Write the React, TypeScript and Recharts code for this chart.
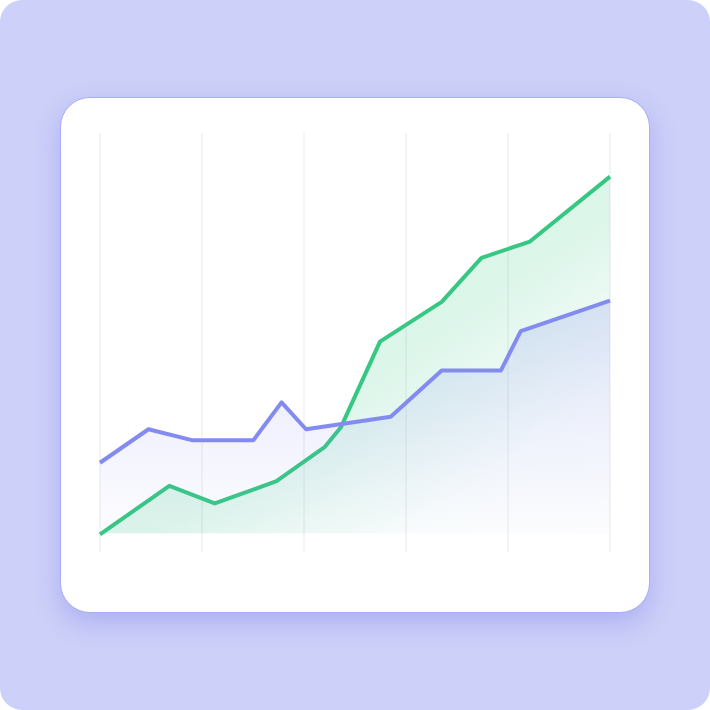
import React from 'react';
import { ComposedChart, Area, XAxis, YAxis, CartesianGrid } from 'recharts';

// x positions (0-100) and values (0-100)
const growthX = [0, 13.6, 22.5, 34.6, 44.1, 47.2, 54.9, 67.0, 74.8, 84.3, 100];
const growthValues = [4.2, 15.8, 11.6, 16.9, 25.1, 29.7, 50.2, 59.7, 70.2, 74.1, 89.6];

const baselineX = [0, 9.5, 18.0, 30.1, 35.6, 40.4, 57.0, 67.0, 78.6, 82.5, 100];
const baselineValues = [21.3, 29.3, 26.7, 26.7, 35.7, 29.3, 32.3, 43.3, 43.3, 52.7, 60.0];

const gridTicks = [0, 20, 40, 60, 80, 100];
const areaBase = 4.5;

const buildData = () => {
  const rows: { [x: string]: { x: number; growth: number | null; baseline: number | null } } = {};
  const row = (x: number) => {
    const key = x.toFixed(2);
    if (!rows[key]) rows[key] = { x, growth: null, baseline: null };
    return rows[key];
  };
  growthX.forEach((x, i) => {
    row(x).growth = growthValues[i];
  });
  baselineX.forEach((x, i) => {
    row(x).baseline = baselineValues[i];
  });
  return Object.values(rows).sort((a, b) => a.x - b.x);
};

const data = buildData();

const GREEN = '#36c883';
const PURPLE = '#838bf1';

// grid lines at the tick values, placed through the x axis scale
const gridX = ({ xAxis }: any) => {
  const s = xAxis && xAxis.scale;
  if (!s) return [];
  return gridTicks.map((t) => (typeof s === 'function' ? s(t) : s.map(t)));
};

const App: React.FC = () => {
  return (
    <div
      style={{
        position: 'fixed',
        top: 0,
        left: 0,
        width: 710,
        height: 710,
        background: '#ffffff',
      }}
    >
      <div
        style={{
          position: 'absolute',
          inset: 0,
          background: '#cdd0f8',
          borderRadius: 22,
        }}
      />
      <div
        style={{
          position: 'absolute',
          left: 60,
          top: 97,
          width: 590,
          height: 516,
          boxSizing: 'border-box',
          background: '#ffffff',
          border: '1px solid #a8adf6',
          borderRadius: 30,
          boxShadow: '0 10px 26px rgba(98, 104, 230, 0.3)',
        }}
      />
      <div style={{ position: 'absolute', left: 60, top: 97 }}>
        <ComposedChart
          width={590}
          height={516}
          data={data}
          margin={{ top: 36, right: 40, bottom: 61, left: 40 }}
        >
          <defs>
            <linearGradient id="growthFill" x1="0" y1="0" x2="1" y2="1">
              <stop offset="0%" stopColor={GREEN} stopOpacity={0.2} />
              <stop offset="55%" stopColor={GREEN} stopOpacity={0.17} />
              <stop offset="80%" stopColor={GREEN} stopOpacity={0.02} />
              <stop offset="100%" stopColor={GREEN} stopOpacity={0} />
            </linearGradient>
            <linearGradient id="baselineFill" x1="0" y1="0" x2="0" y2="1">
              <stop offset="0%" stopColor={PURPLE} stopOpacity={0.22} />
              <stop offset="100%" stopColor={PURPLE} stopOpacity={0.02} />
            </linearGradient>
          </defs>
          <CartesianGrid
            horizontal={false}
            verticalCoordinatesGenerator={gridX}
            stroke="#efeff2"
            strokeWidth={1.4}
          />
          <XAxis
            dataKey="x"
            type="number"
            domain={[0, 100]}
            ticks={gridTicks}
            height={0}
            tick={() => <g />}
            tickLine={false}
            axisLine={false}
          />
          <YAxis type="number" domain={[0, 100]} width={0} hide />
          <Area
            type="linear"
            dataKey="growth"
            stroke={GREEN}
            strokeWidth={4}
            fill="url(#growthFill)"
            fillOpacity={1}
            baseValue={areaBase}
            connectNulls
            dot={false}
            activeDot={false}
            strokeLinejoin="round"
            isAnimationActive={false}
          />
          <Area
            type="linear"
            dataKey="baseline"
            stroke={PURPLE}
            strokeWidth={4}
            fill="url(#baselineFill)"
            fillOpacity={1}
            baseValue={areaBase}
            connectNulls
            dot={false}
            activeDot={false}
            strokeLinejoin="round"
            isAnimationActive={false}
          />
        </ComposedChart>
      </div>
    </div>
  );
};

export default App;
